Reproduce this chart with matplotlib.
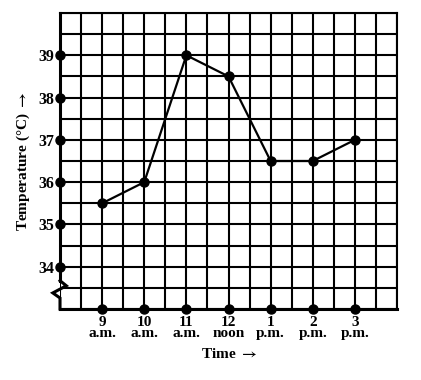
import numpy as np
import matplotlib
matplotlib.use('Agg')
import matplotlib.pyplot as plt

# Data
hours = [9, 10, 11, 12, 13, 14, 15]
time_labels = ['9\na.m.', '10\na.m.', '11\na.m.', '12\nnoon', '1\np.m.', '2\np.m.', '3\np.m.']
temps = [35.5, 36, 39, 38.5, 36.5, 36.5, 37]
temp_ticks = [34, 35, 36, 37, 38, 39]

plt.rcParams['font.family'] = ['Liberation Serif', 'DejaVu Serif']
plt.rcParams['font.weight'] = 'bold'
plt.rcParams['mathtext.fontset'] = 'stix'

fig = plt.figure(figsize=(4.21, 3.8), dpi=100)
ax = fig.add_axes([60/421, 1 - 309/380, 337/421, 296/380])

ax.set_xlim(8, 16)
ax.set_ylim(33, 40)

# grid every half cell
ax.set_xticks(hours)
ax.set_xticklabels(time_labels, fontsize=11, fontweight='bold', linespacing=0.85)
ax.set_xticks(np.arange(8, 16.01, 0.5), minor=True)
ax.set_yticks(temp_ticks)
ax.set_yticklabels([str(t) for t in temp_ticks], fontsize=11.5, fontweight='bold')
ax.set_yticks(np.arange(33, 40.01, 0.5), minor=True)
ax.tick_params(which='both', length=0)
ax.tick_params(axis='x', pad=5)
ax.tick_params(axis='y', pad=4)
ax.grid(which='both', color='black', linewidth=1.5)
ax.set_axisbelow(True)

for s in ['top', 'right']:
    ax.spines[s].set_linewidth(1.5)
ax.spines['bottom'].set_linewidth(2.2)
ax.spines['left'].set_linewidth(2.2)
ax.spines['left'].set_bounds(33.67, 40)

# axis break zigzag
ax.plot([8, 8.15, 7.83, 8, 8], [33.67, 33.55, 33.38, 33.26, 33], color='black',
        linewidth=2.2, clip_on=False, zorder=5, solid_joinstyle='miter')

# dots on axes
ax.plot([8] * len(temp_ticks), temp_ticks, 'o', color='black', markersize=6.5,
        clip_on=False, zorder=6)
ax.plot(hours, [33] * len(hours), 'o', color='black', markersize=6.5,
        clip_on=False, zorder=6)

# the data line
ax.plot(hours, temps, '-o', color='black', linewidth=1.6, markersize=6.5, zorder=7)

ax.set_ylabel(r'Temperature (°C) $\rightarrow$', fontsize=11, fontweight='bold', labelpad=5)
ax.set_xlabel(r'Time $\rightarrow$', fontsize=11, fontweight='bold', labelpad=5)

fig.savefig('out.png', dpi=100)
